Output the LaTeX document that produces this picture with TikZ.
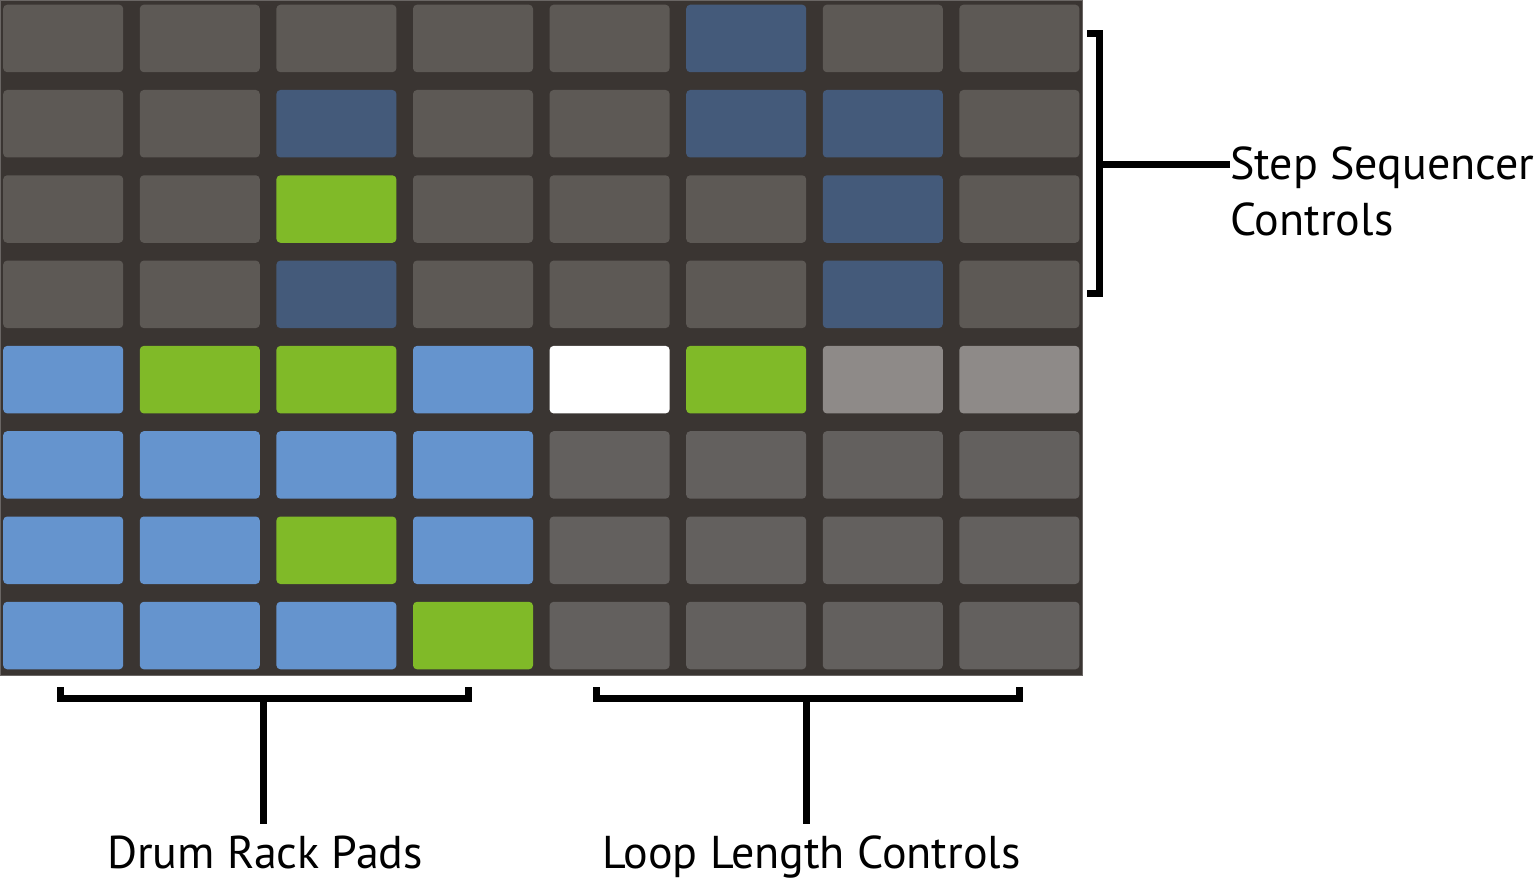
\documentclass[tikz,border=0pt]{standalone}
\usepackage{fontspec}
\setmainfont{PT Sans}
\definecolor{gridbg}{HTML}{3A3532}
\definecolor{gridedge}{HTML}{6A6664}
\definecolor{padG}{HTML}{5D5955}
\definecolor{padH}{HTML}{63605E}
\definecolor{padD}{HTML}{445A7A}
\definecolor{padV}{HTML}{80BA28}
\definecolor{padB}{HTML}{6594CE}
\definecolor{padL}{HTML}{8E8A88}
\definecolor{padW}{HTML}{FFFFFF}
\begin{document}
\begin{tikzpicture}[x=1pt,y=-1pt,
  pad/.style={rectangle,rounded corners=4pt,minimum width=120pt,minimum height=67.5pt,inner sep=0pt,anchor=north west,draw=none},
  brk/.style={line width=7pt,line cap=butt,line join=miter},
  lbl/.style={font=\fontsize{46}{52}\selectfont,inner sep=0pt}]
\useasboundingbox (0,0) rectangle (1535,880);
\fill[white] (0,0) rectangle (1535,880);
\node[rectangle,fill=gridbg,draw=gridedge,line width=1pt,minimum width=1082pt,minimum height=674.5pt,inner sep=0pt,anchor=north west] (grid) at (0,0) {};
% pad colours, row by row
\foreach \row/\cols in {0/{G,G,G,G,G,D,G,G},1/{G,G,D,G,G,D,D,G},2/{G,G,V,G,G,G,D,G},3/{G,G,D,G,G,G,D,G},4/{B,V,V,B,W,V,L,L},5/{B,B,B,B,H,H,H,H},6/{B,B,V,B,H,H,H,H},7/{B,B,B,V,H,H,H,H}}{
  \foreach \c [count=\i from 0] in \cols {
    \node[pad,fill=pad\c] (p-\row-\i) at ({3+136.6*\i},{4.5+85.3*\row}) {};
  }
}
% right bracket: step sequencer
\coordinate (sT) at (1099.5,33.5);
\coordinate (sB) at (1099.5,293.5);
\coordinate (sM) at (1099.5,164.5);
\draw[brk] (1087,33.5) -- (sT) -- (sB) -- (1087,293.5);
\node[lbl,anchor=base west] (seq) at (1230,179) {\begin{tabular}[t]{@{}l@{}}Step Sequencer\\[4pt]Controls\end{tabular}};
\draw[brk] (sM) -- (seq.west |- sM);
% bottom left bracket: drum rack pads
\coordinate (dM) at (263.5,698.5);
\draw[brk] (60.5,687) -- (60.5,698.5) -- (468.5,698.5) -- (468.5,687);
\node[lbl,anchor=base] (drum) at (265,868) {Drum Rack Pads};
\draw[brk] (dM) -- (263.5,824) coordinate (dE);
% bottom right bracket: loop length controls
\coordinate (lM) at (806.5,698.5);
\draw[brk] (596.5,687) -- (596.5,698.5) -- (1019.5,698.5) -- (1019.5,687);
\node[lbl,anchor=base] (loop) at (811.5,868) {Loop Length Controls};
\draw[brk] (lM) -- (806.5,824) coordinate (lE);
\end{tikzpicture}
\end{document}
